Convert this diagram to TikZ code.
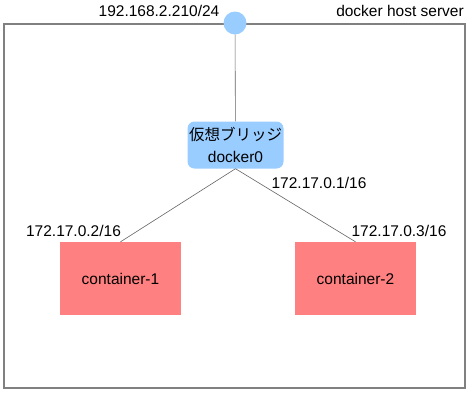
\documentclass[tikz,border=0pt]{standalone}
\usepackage{fontspec}
\setmainfont{Liberation Sans}
\newfontfamily\jpfont{Noto Sans CJK JP}
\definecolor{hostgray}{RGB}{128,128,128}
\definecolor{linkgray}{RGB}{100,100,100}
\definecolor{bridgeblue}{RGB}{153,204,255}
\definecolor{boxred}{RGB}{255,128,128}
\begin{document}
\begin{tikzpicture}[x=1pt,y=1pt,
		every node/.style={font=\fontsize{15.5}{18}\selectfont},
		bridgebox/.style={fill=bridgeblue, rounded corners=7pt, minimum width=96pt, minimum height=47pt, inner sep=0pt, align=center},
		ctrbox/.style={fill=boxred, minimum width=121pt, minimum height=73pt, inner sep=0pt}]
		\useasboundingbox (0,0) rectangle (474,-408);
		\draw [hostgray, line width=1.2pt] (4,-24) rectangle (465,-388);
		\draw (400,-11) node (hostlbl) {docker host server};
		\node [ctrbox] (ctrA) at (120.5,-278.5) {container-1};
		\node [ctrbox] (ctrB) at (355.5,-278.5) {container-2};
		\node [bridgebox] (br) at (235.5,-145) {{\jpfont 仮想ブリッジ}\\[4pt]docker0};
		\node [circle, fill=bridgeblue, minimum size=23pt, inner sep=0pt] (eth) at (235,-23) {};
		\draw [linkgray, line width=0.6pt] (eth) -- (br);
		\draw [linkgray, line width=0.6pt] (br.south) -- (ctrA.north);
		\draw [linkgray, line width=0.6pt] (br.south) -- (ctrB.north);
		\draw (159,-11) node (ethlbl) {192.168.2.210/24};
		\draw (319,-183) node (brlbl) {172.17.0.1/16};
		\draw (73.5,-231) node (albl) {172.17.0.2/16};
		\draw (399,-231) node (blbl) {172.17.0.3/16};
	\end{tikzpicture}
\end{document}
